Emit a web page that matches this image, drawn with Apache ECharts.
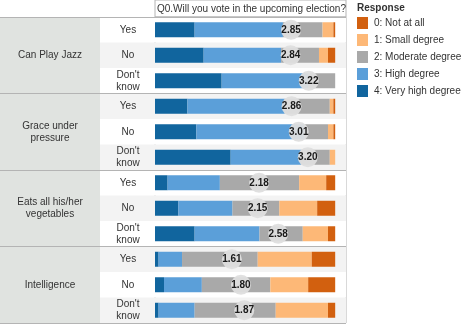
<!DOCTYPE html>
<html>
<head>
<meta charset="utf-8">
<script src="https://cdn.jsdelivr.net/npm/echarts@6/dist/echarts.min.js"></script>
<style>
  html, body { margin: 0; padding: 0; background: #fff; }
  #chart { width: 474px; height: 326px; }
</style>
</head>
<body>
<div id="chart"></div>
<script>
// Attributes rated, and the answer to Q0 within each attribute
const groups = ['Can Play Jazz', 'Grace under\npressure', 'Eats all his/her\nvegetables', 'Intelligence'];
const answers = ['Yes', 'No', "Don't\nknow"];
const question = 'Q0.Will you vote in the upcoming election?';
const responses = ['0: Not at all', '1: Small degree', '2: Moderate degree', '3: High degree', '4: Very high degree'];

// Share of respondents (%) per row, rows ordered group by group, Yes / No / Don't know
const veryHigh = [22, 27, 37, 18, 23, 42, 7, 13, 22, 2, 5, 2];
const high     = [49, 43, 48, 54, 60, 39, 29, 30, 36, 13, 21, 20];
const moderate = [22, 21, 15, 25, 13, 16, 44, 26, 24, 42, 38, 45];
const small    = [6, 5, 0, 2, 3, 3, 15, 21, 14, 30, 21, 29];
const notAtAll = [1, 4, 0, 1, 1, 0, 5, 10, 4, 13, 15, 4];

// Mean response per row (0-4 scale)
const means = [2.85, 2.84, 3.22, 2.86, 3.01, 3.20, 2.18, 2.15, 2.58, 1.61, 1.80, 1.87];

const colors = {
  '0: Not at all': '#d2600f',
  '1: Small degree': '#fdb877',
  '2: Moderate degree': '#a9a9a9',
  '3: High degree': '#5b9fd9',
  '4: Very high degree': '#11659e'
};

const rows = [];
groups.forEach(g => answers.forEach(a => rows.push(g + '|' + a)));

const font = "'Liberation Sans', Arial, sans-serif";
const textColor = '#333';
const lineColor = '#b4b4b4';

const TOP = 17, BOTTOM = 3, BAR_LEFT = 155, PANEL_W = 191, LABEL_COL = 100;

const hiddenValue = (gridIndex) => ({ type: 'value', gridIndex, show: false });
const hiddenCat = (gridIndex, data) => ({
  type: 'category', gridIndex, data, inverse: true, position: 'left',
  axisLine: { show: false }, axisTick: { show: false }, axisLabel: { show: false }
});

const stackOrder = [
  ['4: Very high degree', veryHigh],
  ['3: High degree', high],
  ['2: Moderate degree', moderate],
  ['1: Small degree', small],
  ['0: Not at all', notAtAll]
];

const barSeries = stackOrder.map(([name, values]) => ({
  name,
  type: 'bar',
  stack: 'share',
  xAxisIndex: 4,
  yAxisIndex: 4,
  barWidth: 15,
  z: 2,
  itemStyle: { color: colors[name] },
  emphasis: { disabled: true },
  data: values
}));

const meanSeries = {
  name: 'Mean',
  type: 'scatter',
  xAxisIndex: 5,
  yAxisIndex: 4,
  symbol: 'circle',
  symbolSize: 20,
  z: 20,
  itemStyle: { color: 'rgba(222,222,222,0.95)', opacity: 1 },
  emphasis: { disabled: true },
  label: {
    show: true,
    position: 'inside',
    formatter: p => p.value[0].toFixed(2),
    fontFamily: font,
    fontSize: 10,
    fontWeight: 'bold',
    color: '#1a1a1a'
  },
  data: means.map((m, i) => [m, i])
};

const option = {
  animation: false,
  backgroundColor: '#fff',
  textStyle: { fontFamily: font },
  title: [
    {
      text: question, left: BAR_LEFT + 2, top: 4, padding: 0,
      textStyle: { fontFamily: font, fontSize: 10, fontWeight: 'normal', color: textColor }
    },
    {
      text: 'Response', left: 357, top: 3, padding: 0,
      textStyle: { fontFamily: font, fontSize: 10, fontWeight: 'bold', color: textColor }
    }
  ],
  legend: {
    data: responses,
    orient: 'vertical',
    left: 357,
    top: 17,
    padding: 0,
    itemWidth: 11,
    itemHeight: 12,
    itemGap: 5,
    icon: 'rect',
    selectedMode: false,
    textStyle: { fontFamily: font, fontSize: 10, color: textColor, padding: [0, 0, 0, 1] }
  },
  grid: [
    // attribute column background
    { left: 0, width: LABEL_COL, top: TOP, bottom: BOTTOM, show: true, backgroundColor: '#e0e3e0', borderWidth: 0, containLabel: false },
    // alternating row bands behind answers and bars
    { left: LABEL_COL, width: BAR_LEFT + PANEL_W - LABEL_COL, top: TOP, bottom: BOTTOM, containLabel: false },
    // full-width group separators
    { left: 0, width: BAR_LEFT + PANEL_W, top: TOP, bottom: BOTTOM, containLabel: false },
    // header cell
    { left: BAR_LEFT, width: PANEL_W, top: -1, height: TOP + 1, show: true, borderColor: lineColor, borderWidth: 1, backgroundColor: 'transparent', containLabel: false },
    // bar panel
    { left: BAR_LEFT, width: PANEL_W, top: TOP, bottom: BOTTOM, show: true, borderColor: lineColor, borderWidth: 1, backgroundColor: 'transparent', containLabel: false }
  ],
  xAxis: [
    hiddenValue(0),
    hiddenValue(1),
    hiddenValue(2),
    hiddenValue(3),
    { type: 'value', gridIndex: 4, min: 0, max: 106, show: false, position: 'bottom' },
    { type: 'value', gridIndex: 4, min: 0, max: 4, show: false, position: 'bottom' }
  ],
  yAxis: [
    hiddenCat(0, groups),
    Object.assign(hiddenCat(1, rows), {
      splitArea: { show: true, areaStyle: { color: ['#ffffff', '#f3f3f3'] } }
    }),
    Object.assign(hiddenCat(2, groups), {
      splitLine: { show: true, lineStyle: { color: lineColor, width: 1 } }
    }),
    hiddenCat(3, ['']),
    {
      type: 'category', gridIndex: 4, data: rows, inverse: true, position: 'left', offset: 0,
      axisLine: { show: false }, axisTick: { show: false },
      axisLabel: {
        margin: 27, align: 'center', fontFamily: font, fontSize: 10, color: textColor, lineHeight: 12,
        formatter: v => v.split('|')[1]
      }
    },
    {
      type: 'category', gridIndex: 4, data: groups, inverse: true, position: 'left', offset: 0,
      axisLine: { show: false }, axisTick: { show: false },
      axisLabel: {
        margin: 105, align: 'center', fontFamily: font, fontSize: 10, color: textColor, lineHeight: 12
      }
    }
  ],
  series: barSeries.concat([meanSeries])
};

const chart = echarts.init(document.getElementById('chart'), null, { renderer: 'canvas' });
chart.setOption(option);
</script>
</body>
</html>
